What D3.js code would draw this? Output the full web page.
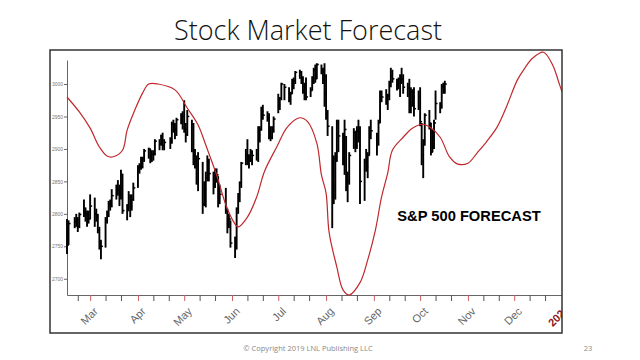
<!DOCTYPE html>
<html>
<head>
<meta charset="utf-8">
<script src="https://cdn.jsdelivr.net/npm/d3@7"></script>
<style>
  body { margin: 0; background: #fff; }
  svg { display: block; }
</style>
</head>
<body>
<div id="chart"></div>
<script>
// daily bars (S&P futures), 2019, trading days
const barDays = [
  "02-14","02-15","02-19","02-20","02-21","02-22","02-25","02-26","02-27","02-28",
  "03-01","03-04","03-05","03-06","03-07","03-08","03-11","03-12","03-13","03-14",
  "03-15","03-18","03-19","03-20","03-21","03-22","03-25","03-26","03-27","03-28","03-29",
  "04-01","04-02","04-03","04-04","04-05","04-08","04-09","04-10","04-11","04-12",
  "04-15","04-16","04-17","04-18","04-22","04-23","04-24","04-25","04-26","04-29","04-30",
  "05-01","05-02","05-03","05-06","05-07","05-08","05-09","05-10","05-13","05-14",
  "05-15","05-16","05-17","05-20","05-21","05-22","05-23","05-24","05-28","05-29","05-30","05-31",
  "06-03","06-04","06-05","06-06","06-07","06-10","06-11","06-12","06-13","06-14",
  "06-17","06-18","06-19","06-20","06-21","06-24","06-25","06-26","06-27","06-28",
  "07-01","07-02","07-03","07-05","07-08","07-09","07-10","07-11","07-12","07-15",
  "07-16","07-17","07-18","07-19","07-22","07-23","07-24","07-25","07-26","07-29","07-30","07-31",
  "08-01","08-02","08-05","08-06","08-07","08-08","08-09","08-12","08-13","08-14",
  "08-15","08-16","08-19","08-20","08-21","08-22","08-23","08-26","08-27","08-28","08-29","08-30",
  "09-03","09-04","09-05","09-06","09-09","09-10","09-11","09-12","09-13","09-16",
  "09-17","09-18","09-19","09-20","09-23","09-24","09-25","09-26","09-27","09-30",
  "10-01","10-02","10-03","10-04","10-07","10-08","10-09","10-10","10-11","10-14",
  "10-15","10-16","10-17"
];
const barHighs = [
  2792,2790,2795,2800,2795,2802,2822,2810,2805,2805,
  2830,2825,2808,2800,2780,2760,2795,2805,2820,2822,
  2838,2845,2852,2845,2868,2862,2815,2835,2830,2830,2848,
  2875,2878,2888,2888,2900,2902,2900,2898,2898,2915,
  2915,2922,2925,2915,2918,2942,2945,2940,2948,2955,2958,
  2975,2940,2960,2945,2940,2900,2890,2895,2880,2850,
  2865,2890,2885,2865,2870,2870,2858,2845,2840,2808,2800,2790,
  2765,2810,2832,2850,2880,2900,2915,2892,2900,2898,
  2900,2935,2935,2965,2968,2958,2955,2935,2935,2950,
  2985,2980,3002,3000,2995,2988,3008,3010,3020,3022,
  3020,3012,3002,3010,2995,3012,3025,3030,3032,3030,3025,3032,
  3015,2960,2935,2890,2895,2945,2945,2925,2945,2920,
  2865,2895,2932,2928,2935,2945,2935,2885,2900,2895,2935,2945,
  2925,2945,2990,2990,2992,2985,3005,3025,3022,3008,
  3010,3015,3025,3015,3002,3008,2995,2992,2995,2990,
  2995,2940,2915,2955,2960,2940,2930,2945,2990,2972,
  3000,3002,3005
];
const barLows = [
  2738,2752,2778,2780,2772,2778,2795,2788,2780,2785,
  2792,2780,2788,2770,2745,2730,2748,2785,2795,2805,
  2810,2822,2828,2812,2822,2800,2790,2805,2795,2805,2820,
  2840,2862,2868,2870,2880,2885,2878,2880,2882,2890,
  2898,2905,2898,2898,2900,2908,2925,2915,2920,2938,2930,
  2925,2910,2920,2895,2875,2870,2845,2835,2800,2812,
  2810,2850,2850,2830,2840,2848,2810,2815,2800,2770,2778,2748,
  2732,2745,2800,2818,2840,2875,2875,2870,2880,2875,
  2882,2880,2910,2928,2945,2942,2915,2912,2915,2925,
  2955,2960,2975,2975,2972,2968,2985,2992,3000,3008,
  3000,2985,2975,2975,2980,2990,3000,3002,3008,3015,3000,2965,
  2945,2920,2778,2815,2822,2880,2895,2875,2860,2835,
  2818,2845,2900,2895,2900,2910,2815,2820,2865,2855,2890,2915,
  2890,2905,2940,2972,2968,2960,2975,2995,3002,2990,
  2992,2980,3000,2985,2980,2955,2955,2965,2950,2960,
  2935,2875,2855,2905,2930,2890,2895,2900,2945,2955,
  2962,2985,2985
];
const barCloses = [
  2752,2785,2788,2792,2780,2799,2802,2800,2798,2792,
  2812,2800,2795,2775,2755,2750,2790,2798,2815,2812,
  2828,2838,2836,2830,2860,2805,2805,2825,2812,2822,2840,
  2872,2872,2878,2885,2897,2900,2882,2892,2892,2912,
  2908,2912,2905,2910,2912,2938,2932,2930,2945,2948,2950,
  2930,2922,2950,2938,2890,2885,2875,2885,2815,2838,
  2855,2880,2862,2845,2868,2860,2825,2830,2805,2788,2792,2755,
  2748,2808,2830,2848,2878,2890,2888,2882,2895,2890,
  2892,2922,2930,2958,2952,2948,2920,2918,2928,2946,
  2968,2978,3000,2995,2980,2985,2998,3005,3018,3018,
  3008,2988,3000,2980,2990,3010,3022,3008,3030,3022,3018,2985,
  2955,2935,2845,2885,2888,2940,2920,2885,2930,2845,
  2850,2890,2925,2905,2928,2925,2850,2880,2872,2890,2928,2928,
  2908,2940,2978,2980,2980,2982,3002,3012,3008,3000,
  3008,3008,3008,2995,2994,2968,2988,2980,2962,2980,
  2942,2890,2912,2952,2940,2895,2920,2940,2970,2966,
  2996,2990,3000
];

// red forecast line
const forecastDates = [
  "2019-02-14","2019-02-22","2019-03-01","2019-03-07","2019-03-12","2019-03-16",
  "2019-03-22","2019-03-25","2019-03-30","2019-04-04","2019-04-08","2019-04-14",
  "2019-04-25","2019-05-03","2019-05-10","2019-05-15","2019-05-22","2019-05-28",
  "2019-06-02","2019-06-05","2019-06-11","2019-06-17","2019-06-22","2019-06-30",
  "2019-07-07","2019-07-15","2019-07-20","2019-07-26","2019-07-29","2019-08-01",
  "2019-08-03","2019-08-08","2019-08-12","2019-08-16","2019-08-23","2019-08-28",
  "2019-09-02","2019-09-06","2019-09-10","2019-09-13","2019-09-20","2019-09-26",
  "2019-10-03","2019-10-07","2019-10-14","2019-10-20","2019-10-25","2019-11-01",
  "2019-11-07","2019-11-13","2019-11-20","2019-11-26","2019-12-03","2019-12-08",
  "2019-12-13","2019-12-20","2019-12-26","2019-12-30","2020-01-01"
];
const forecastValues = [
  2980,2957,2932,2903,2889,2888,
  2898,2929,2960,2986,3000,3000,
  2991,2963,2937,2906,2860,2814,
  2788,2780,2795,2826,2865,2903,
  2934,2948,2942,2909,2860,2832,
  2771,2718,2683,2675,2694,2729,
  2775,2826,2863,2898,2918,2932,
  2938,2934,2918,2888,2877,2878,
  2894,2911,2934,2965,3006,3025,
  3040,3049,3029,3002,2988
];

const yTicks = [2700, 2750, 2800, 2850, 2900, 2950, 3000];
const monthTicks = ["2019-03-01","2019-04-01","2019-05-01","2019-06-01","2019-07-01",
  "2019-08-01","2019-09-01","2019-10-01","2019-11-01","2019-12-01"];
const monthLabels = ["Mar","Apr","May","Jun","Jul","Aug","Sep","Oct","Nov","Dec"];
const minorTicks = ["2019-02-21","2019-03-11","2019-03-21","2019-04-11","2019-04-21",
  "2019-05-11","2019-05-21","2019-06-11","2019-06-21","2019-07-11","2019-07-21",
  "2019-08-11","2019-08-21","2019-09-11","2019-09-21","2019-10-11","2019-10-21",
  "2019-11-11","2019-11-21","2019-12-11","2019-12-21"];
const yearLabel = "2020";

const dimensions = {
  width: 640,
  height: 360,
  frame: { x: 50, y: 50, w: 512, h: 283 },
  plot: { left: 67, right: 562, top: 60, bottom: 295 },
};

const parseDay = d3.timeParse("%Y-%m-%d");
const bars = barDays.map((d, i) => ({
  date: parseDay("2019-" + d),
  high: barHighs[i],
  low: barLows[i],
  close: barCloses[i],
}));
const forecast = forecastDates.map((d, i) => ({ date: parseDay(d), value: forecastValues[i] }));

const svg = d3.select("#chart")
  .append("svg")
  .attr("width", dimensions.width)
  .attr("height", dimensions.height);

svg.append("rect")
  .attr("width", dimensions.width)
  .attr("height", dimensions.height)
  .attr("fill", "#fff");

// title
svg.append("text")
  .attr("x", 308)
  .attr("y", 40)
  .attr("text-anchor", "middle")
  .style("font-family", "'Open Sans', 'Noto Sans', sans-serif")
  .style("font-weight", 300)
  .style("font-size", "27px")
  .attr("fill", "#111")
  .text("Stock Market Forecast");

const xScale = d3.scaleTime()
  .domain([parseDay("2019-02-14"), parseDay("2020-01-01")])
  .range([dimensions.plot.left, dimensions.plot.right]);

const yScale = d3.scaleLinear()
  .domain([2675, 3037])
  .range([dimensions.plot.bottom, dimensions.plot.top]);

svg.append("clipPath")
  .attr("id", "frame-clip")
  .append("rect")
  .attr("x", dimensions.frame.x)
  .attr("y", dimensions.frame.y)
  .attr("width", dimensions.frame.w)
  .attr("height", dimensions.frame.h);

const bounds = svg.append("g").attr("clip-path", "url(#frame-clip)");

// y axis
const yAxis = bounds.append("g")
  .attr("transform", `translate(${dimensions.plot.left},0)`)
  .call(d3.axisLeft(yScale)
    .tickValues(yTicks)
    .tickFormat(d3.format("d"))
    .tickSize(3)
    .tickPadding(1)
    .tickSizeOuter(0));
yAxis.select(".domain").attr("stroke", "#666");
yAxis.selectAll(".tick line").attr("stroke", "#666");
yAxis.selectAll(".tick text")
  .attr("fill", "#777")
  .style("font-family", "'Liberation Sans', Arial, sans-serif")
  .style("font-size", "5px");

// x axis: minor ticks then month ticks
const xMinor = bounds.append("g")
  .attr("transform", `translate(0,${dimensions.plot.bottom})`)
  .call(d3.axisBottom(xScale).tickValues(minorTicks.map(parseDay)).tickSize(6).tickFormat("").tickSizeOuter(0));
xMinor.select(".domain").attr("stroke", "#666");
xMinor.selectAll(".tick line").attr("stroke", "#555");

const xMonths = bounds.append("g")
  .attr("transform", `translate(0,${dimensions.plot.bottom})`)
  .call(d3.axisBottom(xScale)
    .tickValues(monthTicks.map(parseDay))
    .tickSize(6)
    .tickFormat((d, i) => monthLabels[i]));
xMonths.select(".domain").remove();
xMonths.selectAll(".tick line").attr("stroke", "#d06060");
xMonths.selectAll(".tick text")
  .attr("y", 0)
  .attr("dy", 0)
  .attr("text-anchor", "end")
  .attr("transform", "translate(8,17) rotate(-45)")
  .attr("fill", "#666")
  .style("font-family", "'Liberation Sans', Arial, sans-serif")
  .style("font-size", "11px");

// year label at the right edge, cut by the frame
bounds.append("text")
  .attr("text-anchor", "end")
  .attr("transform", `translate(${xScale(parseDay("2020-01-01")) + 8},${dimensions.plot.bottom + 15}) rotate(-45)`)
  .attr("fill", "#8b1a1a")
  .style("font-family", "'Liberation Sans', Arial, sans-serif")
  .style("font-weight", "bold")
  .style("font-size", "11px")
  .text(yearLabel);

// daily bars
const barGroup = bounds.append("g").attr("stroke", "#000");
barGroup.selectAll("line.hl")
  .data(bars)
  .join("line")
  .attr("class", "hl")
  .attr("x1", (d) => xScale(d.date))
  .attr("x2", (d) => xScale(d.date))
  .attr("y1", (d) => yScale(d.high))
  .attr("y2", (d) => yScale(d.low))
  .attr("stroke-width", 1.9);
barGroup.selectAll("line.cl")
  .data(bars)
  .join("line")
  .attr("class", "cl")
  .attr("x1", (d) => xScale(d.date))
  .attr("x2", (d) => xScale(d.date) + 2)
  .attr("y1", (d) => yScale(d.close))
  .attr("y2", (d) => yScale(d.close))
  .attr("stroke-width", 1.5);

// forecast line
const lineGenerator = d3.line()
  .x((d) => xScale(d.date))
  .y((d) => yScale(d.value))
  .curve(d3.curveCatmullRom.alpha(0.5));

bounds.append("path")
  .attr("d", lineGenerator(forecast))
  .attr("fill", "none")
  .attr("stroke", "#c0282d")
  .attr("stroke-width", 1.2);

// chart annotation
bounds.append("text")
  .attr("x", 469)
  .attr("y", 221)
  .attr("text-anchor", "middle")
  .style("font-family", "'Liberation Sans', Arial, sans-serif")
  .style("font-weight", "bold")
  .style("font-size", "14.7px")
  .attr("fill", "#000")
  .text("S&P 500 FORECAST");

// frame
svg.append("rect")
  .attr("x", dimensions.frame.x)
  .attr("y", dimensions.frame.y)
  .attr("width", dimensions.frame.w)
  .attr("height", dimensions.frame.h)
  .attr("fill", "none")
  .attr("stroke", "#333")
  .attr("stroke-width", 1.5);

// footer
svg.append("text")
  .attr("x", 308)
  .attr("y", 351)
  .attr("text-anchor", "middle")
  .style("font-family", "'Open Sans', 'Noto Sans', sans-serif")
  .style("font-size", "7.5px")
  .attr("fill", "#888")
  .text("© Copyright 2019 LNL Publishing LLC");

svg.append("text")
  .attr("x", 588)
  .attr("y", 351)
  .attr("text-anchor", "middle")
  .style("font-family", "'Open Sans', 'Noto Sans', sans-serif")
  .style("font-size", "7.5px")
  .attr("fill", "#888")
  .text("23");
</script>
</body>
</html>
